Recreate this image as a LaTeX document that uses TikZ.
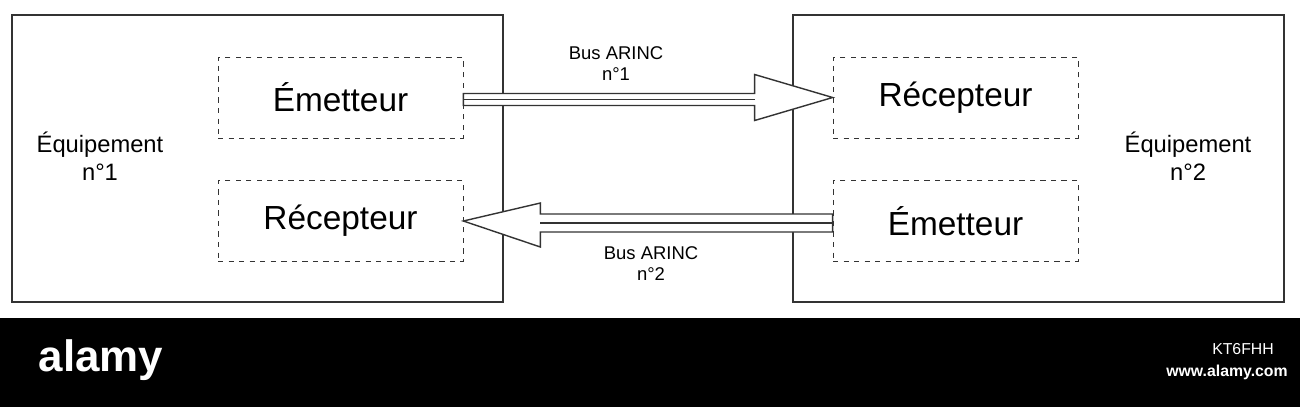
\documentclass[tikz,border=0pt]{standalone}
\usepackage{fontspec}
\setmainfont{Liberation Sans}
\usetikzlibrary{calc}

\tikzset{
  outer/.style={draw=black!80, thick, minimum width=491*0.02cm, minimum height=287*0.02cm},
  unit/.style={draw=black!80, dashed, minimum width=245*0.02cm, minimum height=81*0.02cm, font=\fontsize{19}{22}\selectfont},
  equip/.style={font=\fontsize{13.5}{16}\selectfont, align=center},
  bus/.style={font=\fontsize{10.5}{12}\selectfont, align=center},
  busarrow/.style={draw=black!80, fill=white, thick}
}

\begin{document}
\begin{tikzpicture}[x=0.02cm, y=-0.02cm]
  \useasboundingbox (0,0) rectangle (1300,407);

  % outer boxes
  \node[outer] (eq1) at (257.5,158.5) {};
  \node[outer] (eq2) at (1038.5,158.5) {};
  \node[equip] (eq1t) at (100,156) {Équipement\\n°1};
  \node[equip] (eq2t) at (1188,156) {Équipement\\n°2};

  % emitters and receivers
  \node[unit] (em1) at (340.5,97.5) {Émetteur};
  \node[unit] (rc1) at (340.5,221) {Récepteur};
  \node[unit] (rc2) at (955.5,97.5) {Récepteur};
  \node[unit] (em2) at (955.5,221) {Émetteur};

  % bus 1
  \draw[busarrow] ($(em1.east)+(0,-4)$) -- ($(rc2.west)+(-78,-4)$) -- ($(rc2.west)+(-78,-23)$)
    -- (rc2.west) -- ($(rc2.west)+(-78,23)$) -- ($(rc2.west)+(-78,8)$) -- ($(em1.east)+(0,8)$) -- cycle;
  \draw[black!80, thick] ($(em1.east)+(0,2)$) -- ($(rc2.west)+(-78,2)$);
  \node[bus] (b1) at (616,64) {Bus ARINC\\n°1};

  % bus 2
  \draw[busarrow] ($(em2.west)+(0,-7)$) -- ($(rc1.east)+(77,-7)$) -- ($(rc1.east)+(77,-18)$)
    -- (rc1.east) -- ($(rc1.east)+(77,26)$) -- ($(rc1.east)+(77,11)$) -- ($(em2.west)+(0,11)$) -- cycle;
  \draw[black!80, thick] ($(em2.west)+(0,2)$) -- ($(rc1.east)+(77,2)$);
  \node[bus] (b2) at (651,264) {Bus ARINC\\n°2};

  % band
  \fill[black] (0,318) rectangle (1300,407);
  \node[white, font=\fontsize{25}{28}\bfseries\selectfont] (al) at (101,360) {alamy};
  \node[white, font=\fontsize{9}{11}\selectfont] (id) at (1243,349) {KT6FHH};
  \node[white, font=\fontsize{9}{11}\bfseries\selectfont] (url) at (1227,372) {www.alamy.com};
\end{tikzpicture}
\end{document}
